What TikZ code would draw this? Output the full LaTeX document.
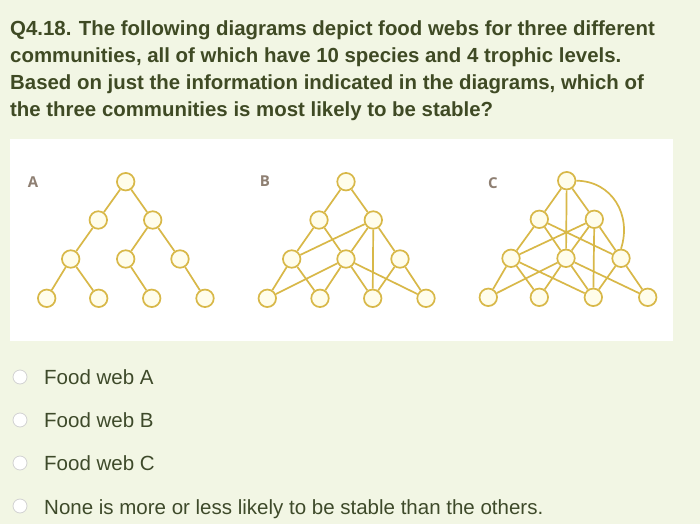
\documentclass[tikz,border=0pt]{standalone}
\usepackage{fontspec}
\setmainfont{Liberation Sans}
\newfontfamily\labfont{Open Sans}
\definecolor{bg}{HTML}{F2F6E4}
\definecolor{ttl}{HTML}{3F4A24}
\definecolor{opt}{HTML}{3E4A2A}
\definecolor{web}{HTML}{D8B848}
\definecolor{webfill}{HTML}{FFFDEB}
\definecolor{lab}{HTML}{8E7F72}
\definecolor{radio}{HTML}{D2D2D2}
\tikzset{
  sp/.style={circle,draw=web,fill=webfill,line width=1.7pt,minimum size=17.5pt,inner sep=0pt},
  ln/.style={draw=web,line width=1.7pt},
  titleline/.style={anchor=base west,inner sep=0pt,text=ttl,font=\fontsize{20.4}{24}\selectfont\bfseries},
  optline/.style={anchor=base west,inner sep=0pt,text=opt,font=\fontsize{20.5}{24}\selectfont},
  radiobtn/.style={circle,draw=radio,fill=white,line width=0.8pt,minimum size=14pt,inner sep=0pt},
  weblab/.style={inner sep=0pt,text=lab,font=\labfont\fontsize{15}{17}\selectfont\bfseries}
}
\begin{document}
\begin{tikzpicture}[x=1pt,y=-1pt]
\useasboundingbox (0,0) rectangle (700,524);
\fill[bg] (0,0) rectangle (700,524);
\fill[white] (10,139) rectangle (673,341);
% title
\node[titleline] (t1) at (10,36) {Q4.18. The following diagrams depict food webs for three different};
\node[titleline] (t2) at (10,63) {communities, all of which have 10 species and 4 trophic levels.};
\node[titleline] (t3) at (10,90) {Based on just the information indicated in the diagrams, which of};
\node[titleline] (t4) at (10,117) {the three communities is most likely to be stable?};
% labels
\node[weblab] (la) at (33,182) {A};
\node[weblab] (lb) at (265,181) {B};
\node[weblab] (lc) at (493,183) {C};
% web A
\node[sp] (a0) at (125.7,181.7) {};
\node[sp] (a1) at (98.3,220) {};
\node[sp] (a2) at (152.7,220) {};
\node[sp] (a3) at (70.7,259) {};
\node[sp] (a4) at (125.7,259) {};
\node[sp] (a5) at (180,259) {};
\node[sp] (a6) at (46.7,298.3) {};
\node[sp] (a7) at (98.7,298.3) {};
\node[sp] (a8) at (151.7,298.3) {};
\node[sp] (a9) at (205,298.3) {};
\path[ln] (a0)--(a1) (a0)--(a2) (a1)--(a3) (a2)--(a4) (a2)--(a5)
  (a3)--(a6) (a3)--(a7) (a4)--(a8) (a5)--(a9);
% web B
\node[sp] (b0) at (346,181.7) {};
\node[sp] (b1) at (319,220) {};
\node[sp] (b2) at (373.3,220) {};
\node[sp] (b3) at (291.7,259) {};
\node[sp] (b4) at (346,259) {};
\node[sp] (b5) at (400,259) {};
\node[sp] (b6) at (267.3,298.3) {};
\node[sp] (b7) at (320,298.3) {};
\node[sp] (b8) at (372.7,298.3) {};
\node[sp] (b9) at (426,298.3) {};
\path[ln] (b0)--(b1) (b0)--(b2) (b1)--(b3) (b1)--(b4) (b2)--(b3) (b2)--(b4)
  (b2)--(b5) (b2)--(b8)
  (b3)--(b6) (b3)--(b7) (b4)--(b6) (b4)--(b7) (b4)--(b8) (b4)--(b9)
  (b5)--(b8) (b5)--(b9);
% web C
\node[sp] (c0) at (566.7,180.7) {};
\node[sp] (c1) at (539.3,219.3) {};
\node[sp] (c2) at (594.3,219.3) {};
\node[sp] (c3) at (511,258.3) {};
\node[sp] (c4) at (566,258.3) {};
\node[sp] (c5) at (621,258.3) {};
\node[sp] (c6) at (488.3,297.3) {};
\node[sp] (c7) at (539.3,297.3) {};
\node[sp] (c8) at (593.3,297.3) {};
\node[sp] (c9) at (647.7,297.3) {};
\path[ln] (c0)--(c1) (c0)--(c2) (c0)--(c4)
  (c1)--(c3) (c1)--(c4) (c1)--(c5)
  (c2)--(c3) (c2)--(c4) (c2)--(c5) (c2)--(c8)
  (c3)--(c6) (c3)--(c7) (c3)--(c8)
  (c4)--(c6) (c4)--(c7) (c4)--(c8) (c4)--(c9)
  (c5)--(c8) (c5)--(c9);
\draw[ln] (c0.east) .. controls (612,181) and (632,215) .. (c5.north);
% options
\node[radiobtn] (r1) at (20,377) {};
\node[radiobtn] (r2) at (20,420) {};
\node[radiobtn] (r3) at (20,463) {};
\node[radiobtn] (r4) at (20,506) {};
\node[optline] (o1) at (44,384) {Food web A};
\node[optline] (o2) at (44,427) {Food web B};
\node[optline] (o3) at (44,470) {Food web C};
\node[optline] (o4) at (44,514) {None is more or less likely to be stable than the others.};
\end{tikzpicture}
\end{document}
